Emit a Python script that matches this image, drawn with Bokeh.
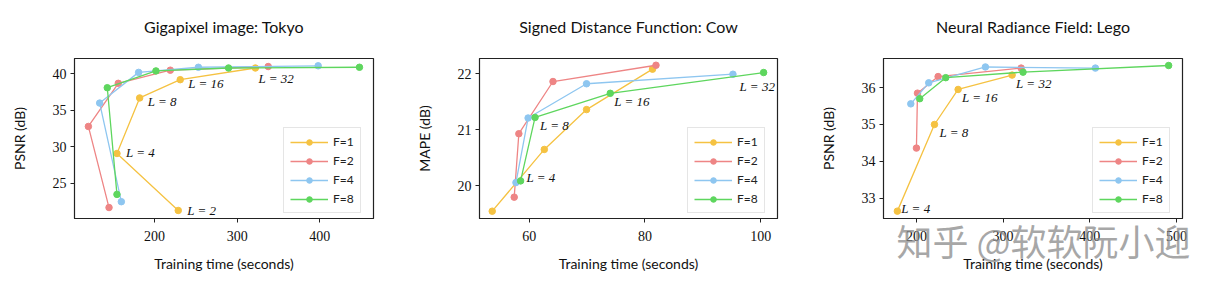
from bokeh.plotting import figure
from bokeh.layouts import row
from bokeh.models import Range1d, FixedTicker, Legend, LegendItem, Label, ColumnDataSource
from bokeh.core.properties import value
from bokeh.embed import file_html
from bokeh.resources import INLINE

# ---------------- data ----------------
series_names = ["F=1", "F=2", "F=4", "F=8"]
series_colors = ["#F5C242", "#EE8585", "#8EC6F0", "#5ED65E"]

# Gigapixel image: Tokyo  (points ordered L = 2, 4, 8, 16, 32)
tokyo_f1_time = [228.6, 154.4, 181.9, 231.0, 322.0]
tokyo_f1_psnr = [21.3, 29.1, 36.7, 39.2, 40.8]
tokyo_f2_time = [144.8, 119.8, 156.0, 219.0, 337.5]
tokyo_f2_psnr = [21.7, 32.8, 38.7, 40.5, 41.0]
tokyo_f4_time = [159.7, 133.5, 180.6, 253.0, 398.0]
tokyo_f4_psnr = [22.5, 36.0, 40.2, 40.9, 41.1]
tokyo_f8_time = [154.4, 142.7, 201.6, 289.5, 448.0]
tokyo_f8_psnr = [23.5, 38.1, 40.4, 40.8, 40.9]
tokyo_L_labels = ["L = 2", "L = 4", "L = 8", "L = 16", "L = 32"]

# Signed Distance Function: Cow  (points ordered L = 4, 8, 16, 32)
cow_f1_time = [53.6, 62.6, 69.9, 81.3]
cow_f1_mape = [19.55, 20.65, 21.36, 22.08]
cow_f2_time = [57.4, 58.2, 64.1, 81.9]
cow_f2_mape = [19.80, 20.93, 21.86, 22.15]
cow_f4_time = [57.7, 59.8, 69.9, 95.2]
cow_f4_mape = [20.06, 21.21, 21.82, 21.99]
cow_f8_time = [58.5, 61.0, 74.0, 100.5]
cow_f8_mape = [20.09, 21.22, 21.65, 22.02]
cow_L_labels = ["L = 4", "L = 8", "L = 16", "L = 32"]

# Neural Radiance Field: Lego  (points ordered L = 4, 8, 16, 32)
lego_f1_time = [178.0, 220.8, 248.1, 310.4]
lego_f1_psnr = [32.65, 35.00, 35.95, 36.34]
lego_f2_time = [200.0, 201.2, 225.0, 320.8]
lego_f2_psnr = [34.36, 35.85, 36.30, 36.53]
lego_f4_time = [193.5, 214.2, 279.6, 406.5]
lego_f4_psnr = [35.56, 36.13, 36.56, 36.53]
lego_f8_time = [203.8, 233.8, 323.0, 491.0]
lego_f8_psnr = [35.70, 36.27, 36.42, 36.60]
lego_L_labels = ["L = 4", "L = 8", "L = 16", "L = 32"]

tokyo_xticks = [200, 300, 400]
tokyo_yticks = [25, 30, 35, 40]
cow_xticks = [60, 80, 100]
cow_yticks = [20, 21, 22]
lego_xticks = [200, 300, 400, 500]
lego_yticks = [33, 34, 35, 36]

x_label = "Training time (seconds)"
watermark = "知乎 @软软阮小迎"

SANS = "Lato"
SERIF = "Liberation Serif"
FIG_H = 340
BORDER_B = 122


def make_panel(title, ylabel, xs, ys, xrange_, yrange_, xticks, yticks,
               width, bl, br, label_anchor, labels, label_dx, label_dy):
    p = figure(width=width, height=FIG_H, output_backend="svg", toolbar_location=None,
               x_range=Range1d(*xrange_), y_range=Range1d(*yrange_),
               min_border_left=bl, min_border_right=br,
               min_border_top=58, min_border_bottom=BORDER_B)
    fw = width - bl - br
    ttl = Label(x=fw / 2, y=32, x_units="screen", y_units="screen", text=title,
                text_font=SANS, text_font_size="16px", text_color="#111111",
                text_align="center", text_baseline="middle")
    p.add_layout(ttl, "above")

    p.xgrid.visible = False
    p.ygrid.visible = False
    p.outline_line_color = "#222222"
    p.outline_line_width = 1.2
    p.background_fill_color = "white"
    p.border_fill_color = "white"

    p.xaxis.ticker = FixedTicker(ticks=xticks)
    p.yaxis.ticker = FixedTicker(ticks=yticks)
    for ax in (p.xaxis[0], p.yaxis[0]):
        ax.major_label_text_font = SERIF
        ax.major_label_text_font_size = "14px"
        ax.major_label_text_color = "#111111"
        ax.axis_label_text_font = SANS
        ax.axis_label_text_font_size = "14px"
        ax.axis_label_text_font_style = "normal"
        ax.axis_label_text_color = "#111111"
        ax.minor_tick_line_color = None
        ax.major_tick_in = 0
        ax.major_tick_out = 4
        ax.major_tick_line_color = "#222222"
        ax.axis_line_color = "#222222"
    p.xaxis.axis_label = x_label
    p.yaxis.axis_label = ylabel
    p.xaxis.major_label_standoff = 8
    p.xaxis.axis_label_standoff = 11
    p.yaxis.major_label_standoff = 4
    p.yaxis.axis_label_standoff = 22

    items = []
    for name, color, x, y in zip(series_names, series_colors, xs, ys):
        src = ColumnDataSource(dict(x=x, y=y))
        ln = p.line("x", "y", source=src, line_color=color, line_width=1.3)
        sc = p.scatter("x", "y", source=src, size=6.5, fill_color=color,
                       line_color=color)
        items.append(LegendItem(label=name, renderers=[ln, sc]))

    ax_, ay_ = xs[label_anchor], ys[label_anchor]
    lsrc = ColumnDataSource(dict(x=ax_, y=ay_, t=labels, dx=label_dx, dy=label_dy))
    p.text("x", "y", text="t", source=lsrc, x_offset="dx", y_offset="dy",
           text_font=value(SERIF), text_font_style="italic", text_font_size="13px",
           text_baseline="middle", text_align="left", text_color="#111111")

    legend = Legend(items=items, location=(fw - 10 - 80, 5))
    legend.border_line_color = "#cccccc"
    legend.border_line_width = 1
    legend.background_fill_color = "white"
    legend.background_fill_alpha = 1
    legend.label_text_font = SANS
    legend.label_text_font_size = "12px"
    legend.label_text_color = "#222222"
    legend.glyph_width = 38
    legend.glyph_height = 14
    legend.spacing = 4
    legend.padding = 6
    legend.label_standoff = 5
    legend.margin = 0
    p.add_layout(legend)
    return p


p1 = make_panel("Gigapixel image: Tokyo", "PSNR (dB)",
                [tokyo_f1_time, tokyo_f2_time, tokyo_f4_time, tokyo_f8_time],
                [tokyo_f1_psnr, tokyo_f2_psnr, tokyo_f4_psnr, tokyo_f8_psnr],
                (103, 465), (20.2, 42.1), tokyo_xticks, tokyo_yticks,
                405, 74, 32, 0, tokyo_L_labels,
                [9, 9, 8, 8, 3], [0, -1, 4, 4, 11])

p2 = make_panel("Signed Distance Function: Cow", "MAPE (dB)",
                [cow_f1_time, cow_f2_time, cow_f4_time, cow_f8_time],
                [cow_f1_mape, cow_f2_mape, cow_f4_mape, cow_f8_mape],
                (51.4, 102.9), (19.42, 22.27), cow_xticks, cow_yticks,
                405, 74, 33, 3, cow_L_labels,
                [6, 5, 4, -24], [-3, 8, 8, 14])

p3 = make_panel("Neural Radiance Field: Lego", "PSNR (dB)",
                [lego_f1_time, lego_f2_time, lego_f4_time, lego_f8_time],
                [lego_f1_psnr, lego_f2_psnr, lego_f4_psnr, lego_f8_psnr],
                (162.0, 507.0), (32.45, 36.79), lego_xticks, lego_yticks,
                412, 73, 40, 0, lego_L_labels,
                [4, 5, 4, 4], [-3, 8, 8, 8])

wm = Label(x=13, y=87, x_units="screen", y_units="screen", text=watermark,
           text_font="Noto Sans CJK SC", text_font_size="36px",
           text_color="#8a8a8a", text_alpha=0.75, text_baseline="middle",
           text_align="left")
p3.add_layout(wm, "below")

layout = row(p1, p2, p3)
open("out.html", "w").write(file_html(layout, INLINE))
